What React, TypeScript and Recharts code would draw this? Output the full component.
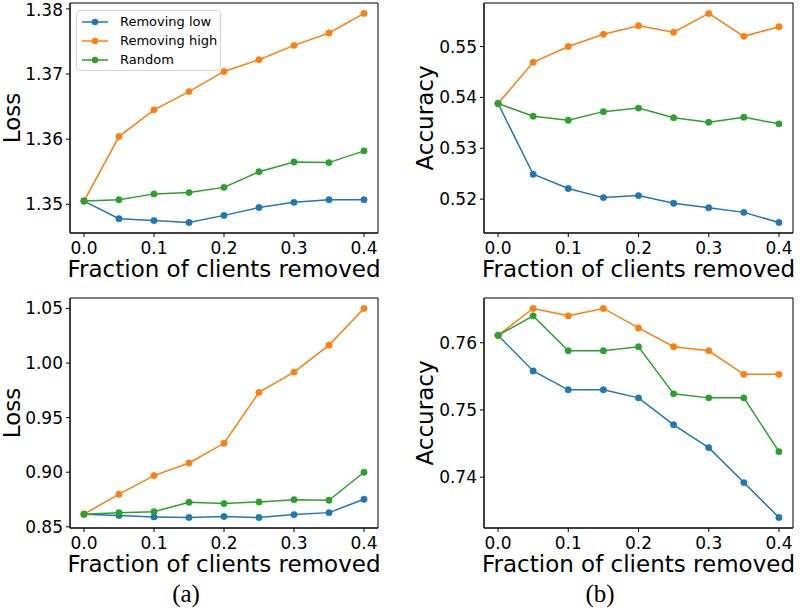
import { LineChart, Line, XAxis, YAxis, Legend, ReferenceArea } from 'recharts'

const fractions = [0, 0.05, 0.1, 0.15, 0.2, 0.25, 0.3, 0.35, 0.4]
const xTicks = [0, 0.1, 0.2, 0.3, 0.4]
const xDomain = [-0.02, 0.42]

// (a) top: loss
const lossTopLow = [1.3505, 1.3478, 1.3475, 1.3472, 1.3483, 1.3495, 1.3503, 1.3507, 1.3507]
const lossTopHigh = [1.3505, 1.3604, 1.3645, 1.3673, 1.3704, 1.3722, 1.3744, 1.3763, 1.3793]
const lossTopRandom = [1.3505, 1.3507, 1.3516, 1.3518, 1.3526, 1.355, 1.3565, 1.3564, 1.3582]
const lossTopTicks = [1.35, 1.36, 1.37, 1.38]

// (b) top: accuracy
const accTopLow = [0.5388, 0.5249, 0.5221, 0.5203, 0.5207, 0.5192, 0.5183, 0.5174, 0.5154]
const accTopHigh = [0.5388, 0.5469, 0.55, 0.5524, 0.5541, 0.5528, 0.5565, 0.552, 0.5539]
const accTopRandom = [0.5388, 0.5363, 0.5355, 0.5372, 0.5379, 0.536, 0.5351, 0.5361, 0.5348]
const accTopTicks = [0.52, 0.53, 0.54, 0.55]

// (a) bottom: loss
const lossBotLow = [0.8616, 0.8603, 0.8591, 0.8585, 0.8594, 0.8585, 0.8612, 0.863, 0.8752]
const lossBotHigh = [0.8616, 0.8799, 0.8969, 0.9085, 0.9265, 0.9731, 0.9917, 1.0164, 1.05]
const lossBotRandom = [0.8616, 0.863, 0.8639, 0.8725, 0.8713, 0.8728, 0.8749, 0.8743, 0.9]
const lossBotTicks = [0.85, 0.9, 0.95, 1.0, 1.05]

// (b) bottom: accuracy
const accBotLow = [0.7611, 0.7558, 0.753, 0.753, 0.7518, 0.7478, 0.7444, 0.7392, 0.734]
const accBotHigh = [0.7611, 0.7651, 0.764, 0.7651, 0.7622, 0.7594, 0.7588, 0.7553, 0.7553]
const accBotRandom = [0.7611, 0.764, 0.7588, 0.7588, 0.7594, 0.7524, 0.7518, 0.7518, 0.7438]
const accBotTicks = [0.74, 0.75, 0.76]

const seriesNames = ['Removing low', 'Removing high', 'Random']
const COLORS = ['#1f77b4', '#ff7f0e', '#2ca02c']

const FONT = '"DejaVu Sans", sans-serif'

const buildRows = (low: number[], high: number[], random: number[]) =>
  fractions.map((x, i) => ({ x, low: low[i], high: high[i], random: random[i] }))

// matplotlib-style 5% margins around the data
const padDomain = ([min, max]: [number, number]): [number, number] => {
  const pad = (max - min) * 0.05
  return [min - pad, max + pad]
}

const LegendBox = (props: any) => {
  const payload = [...(props.payload || [])].sort(
    (a: any, b: any) => seriesNames.indexOf(a.value) - seriesNames.indexOf(b.value)
  )
  return (
    <div
      style={{
        border: '1px solid #d6d6d6',
        borderRadius: 4,
        background: 'rgba(255,255,255,0.85)',
        padding: '1px 0',
        width: 145,
        height: 61,
        boxSizing: 'border-box',
        fontFamily: FONT,
        fontSize: 13,
      }}
    >
      {payload.map((entry: any) => (
        <div key={entry.value} style={{ display: 'flex', alignItems: 'center', height: 19 }}>
          <svg width={36} height={10} style={{ marginLeft: 4 }}>
            <line x1={1} y1={5} x2={27} y2={5} stroke={entry.color} strokeWidth={1.5} />
            <circle cx={14} cy={5} r={3.2} fill={entry.color} />
          </svg>
          <span style={{ marginLeft: 3, color: '#000' }}>{entry.value}</span>
        </div>
      ))}
    </div>
  )
}

type PanelProps = {
  left: number
  top: number
  yWidth: number
  marginRight: number
  yLabel: string
  yLabelOffset: number
  yTicks: number[]
  low: number[]
  high: number[]
  random: number[]
  showLegend?: boolean
}

const Panel = (p: PanelProps) => {
  const rows = buildRows(p.low, p.high, p.random)
  const keys = ['low', 'high', 'random']
  return (
    <div style={{ position: 'absolute', left: p.left, top: p.top }}>
      <LineChart width={400} height={300} data={rows} margin={{ top: 3, right: p.marginRight, bottom: 17, left: 0 }}>
        <XAxis
          dataKey="x"
          type="number"
          domain={xDomain}
          allowDataOverflow
          ticks={xTicks}
          tickFormatter={(v: number) => v.toFixed(1)}
          height={50}
          tickSize={4}
          tickMargin={5}
          stroke="#000"
          tick={{ fill: '#000', fontSize: 17, fontFamily: FONT }}
          label={{ value: 'Fraction of clients removed', position: 'insideBottom', offset: 6, fill: '#000', fontSize: 23, fontFamily: FONT }}
        />
        <YAxis
          type="number"
          domain={padDomain as any}
          allowDataOverflow
          ticks={p.yTicks}
          tickFormatter={(v: number) => v.toFixed(2)}
          width={p.yWidth}
          tickSize={4}
          tickMargin={3}
          stroke="#000"
          tick={{ fill: '#000', fontSize: 17, fontFamily: FONT }}
          label={{
            value: p.yLabel,
            angle: -90,
            position: 'insideLeft',
            offset: p.yLabelOffset,
            fill: '#000',
            fontSize: 23,
            fontFamily: FONT,
            style: { textAnchor: 'middle' },
          }}
        />
        {/* full frame around the plot area, like matplotlib's spines */}
        <ReferenceArea x1={xDomain[0]} x2={xDomain[1]} fill="none" stroke="#000" strokeWidth={1} ifOverflow="visible" />
        {p.showLegend && (
          <Legend
            layout="vertical"
            align="center"
            verticalAlign="middle"
            content={LegendBox}
            wrapperStyle={{ position: 'absolute', left: 76, top: 10, width: 145, height: 61 }}
          />
        )}
        {keys.map((k, i) => (
          <Line
            key={k}
            dataKey={k}
            name={seriesNames[i]}
            stroke={COLORS[i]}
            strokeWidth={1.5}
            dot={{ r: 3.2, fill: COLORS[i], stroke: COLORS[i], strokeWidth: 0.5 }}
            activeDot={false}
            isAnimationActive={false}
          />
        ))}
      </LineChart>
    </div>
  )
}

export default function App() {
  return (
    <div style={{ position: 'absolute', left: 0, top: 0, width: 801, height: 614, background: '#fff' }}>
      <Panel left={0} top={0} yWidth={70} marginRight={22} yLabel="Loss" yLabelOffset={12} yTicks={lossTopTicks}
        low={lossTopLow} high={lossTopHigh} random={lossTopRandom} showLegend />
      <Panel left={400} top={0} yWidth={84} marginRight={7} yLabel="Accuracy" yLabelOffset={25} yTicks={accTopTicks}
        low={accTopLow} high={accTopHigh} random={accTopRandom} />
      <Panel left={0} top={295} yWidth={70} marginRight={22} yLabel="Loss" yLabelOffset={12} yTicks={lossBotTicks}
        low={lossBotLow} high={lossBotHigh} random={lossBotRandom} />
      <Panel left={400} top={295} yWidth={84} marginRight={7} yLabel="Accuracy" yLabelOffset={25} yTicks={accBotTicks}
        low={accBotLow} high={accBotHigh} random={accBotRandom} />
      <div style={{ position: 'absolute', left: 146, top: 580, width: 80, textAlign: 'center', fontFamily: '"Liberation Serif", serif', fontSize: 25 }}>(a)</div>
      <div style={{ position: 'absolute', left: 560, top: 580, width: 80, textAlign: 'center', fontFamily: '"Liberation Serif", serif', fontSize: 25 }}>(b)</div>
    </div>
  )
}
